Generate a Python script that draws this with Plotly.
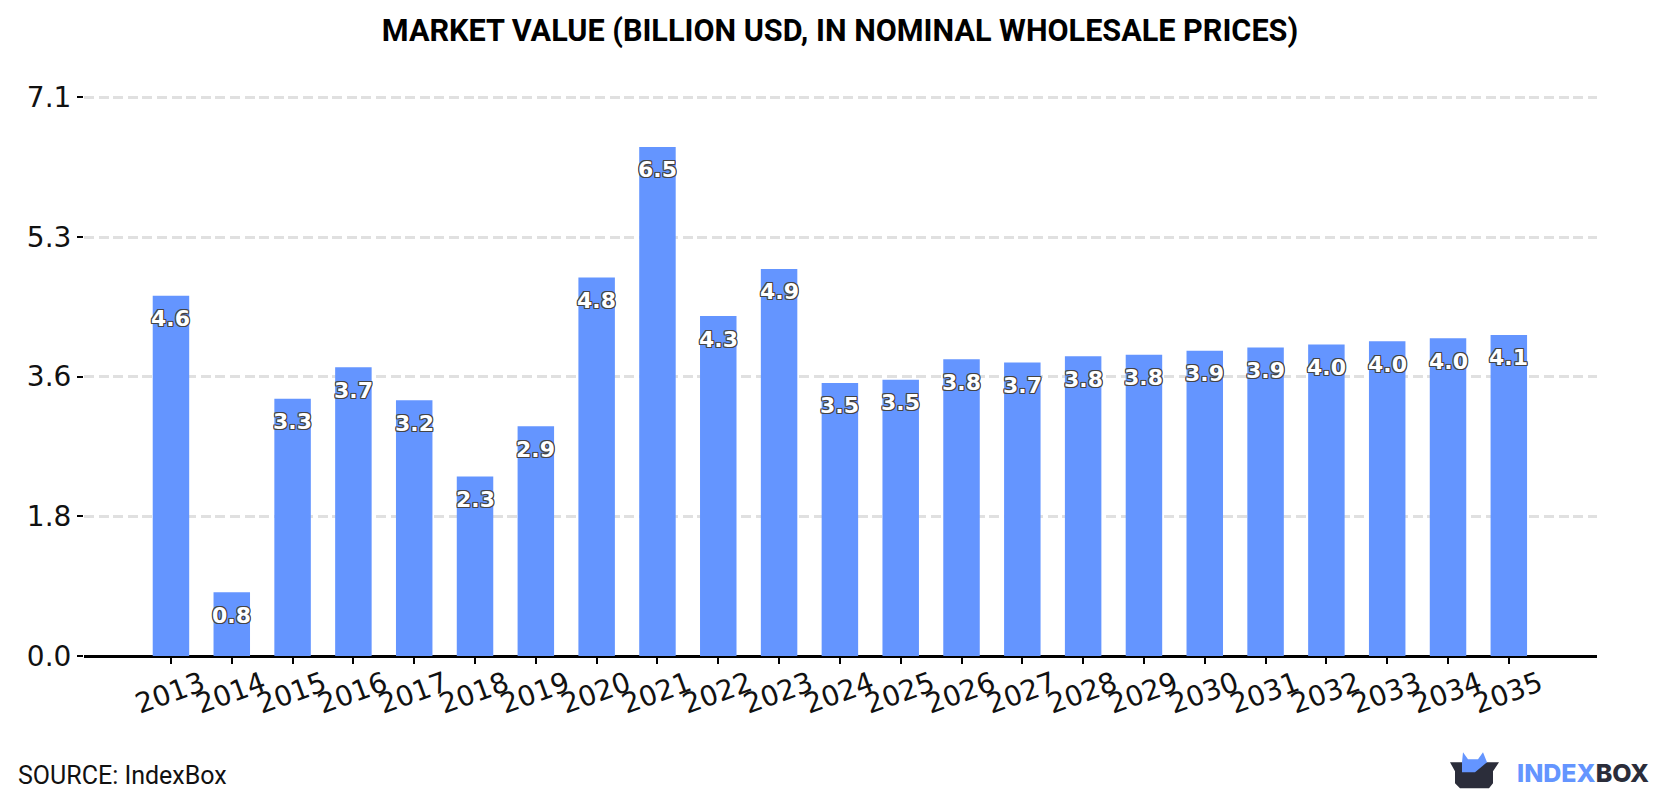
import plotly.graph_objects as go

WIDTH, HEIGHT = 1680, 800
LEFT, RIGHT, TOP, BOTTOM = 84, 1597, 94.6, 656.5

years = [str(y) for y in range(2013, 2036)]
market_value = [4.58, 0.81, 3.27, 3.67, 3.25, 2.28, 2.92, 4.81, 6.47, 4.32, 4.92, 3.47,
                3.51, 3.77, 3.73, 3.81, 3.83, 3.88, 3.92, 3.96, 4.00, 4.04, 4.08]
tick_values = [0, 1.775, 3.55, 5.325, 7.1]
tick_labels = ["0.0", "1.8", "3.6", "5.3", "7.1"]

BLUE = "#6495FF"
DARK = "#2B2D3A"
OUTLINE = ("-1px -1px 0 #444, 1px -1px 0 #444, -1px 1px 0 #444, 1px 1px 0 #444, "
           "0 -1px 0 #444, 0 1px 0 #444, -1px 0 0 #444, 1px 0 0 #444")


def px(x):
    return (x - LEFT) / (RIGHT - LEFT)


def py(y):
    return (BOTTOM - y) / (BOTTOM - TOP)


def logo_path(points):
    return "M " + " L ".join(f"{px(x)} {py(y)}" for x, y in points) + " Z"


fig = go.Figure(
    go.Bar(x=years, y=market_value, width=0.6, marker=dict(color=BLUE, line_width=0),
           hoverinfo="x+y")
)

# Value labels sit just under the top of each bar; category annotations use the serial position
annotations = [
    dict(x=i, y=value, xref="x", yref="y", text=f"{value:.1f}", showarrow=False,
         yshift=-23, yanchor="middle", xanchor="center",
         font=dict(family="DejaVu Sans", size=22, color="white", weight="bold", shadow=OUTLINE))
    for i, value in enumerate(market_value)
]
annotations += [
    dict(x=px(16), y=py(776), xref="paper", yref="paper", text="SOURCE: IndexBox", showarrow=False,
         xanchor="left", yanchor="middle", font=dict(family="Roboto", size=25, color="#111111")),
    dict(x=px(1515), y=py(774), xref="paper", yref="paper", showarrow=False,
         xanchor="left", yanchor="middle",
         text=f"<span style='color:{BLUE}'>INDEX</span><span style='color:{DARK}'>BOX</span>",
         font=dict(family="Inter", size=25, weight=800)),
]

# Brand mark: an open box with a blue crown rising from it
box = [(1450, 763), (1499, 763), (1493, 772), (1493, 784), (1489, 789), (1460, 789),
       (1455, 784), (1455, 772)]
crown = [(1462, 773), (1462, 763), (1463, 753), (1468, 760), (1478, 760), (1483, 753),
         (1487, 763), (1475, 773)]
shapes = [
    dict(type="path", xref="paper", yref="paper", path=logo_path(box),
         fillcolor=DARK, line_width=0, layer="above"),
    dict(type="path", xref="paper", yref="paper", path=logo_path(crown),
         fillcolor=BLUE, line_width=0, layer="above"),
]

fig.update_layout(
    width=WIDTH, height=HEIGHT, autosize=False,
    margin=dict(l=LEFT, r=WIDTH - RIGHT, t=TOP, b=HEIGHT - BOTTOM, pad=0),
    paper_bgcolor="white", plot_bgcolor="white", showlegend=False,
    title=dict(text="<b>MARKET VALUE (BILLION USD, IN NOMINAL WHOLESALE PRICES)</b>",
               x=0.5, xref="container", xanchor="center", y=1 - 30 / HEIGHT, yanchor="middle",
               font=dict(family="Roboto", size=30.6, color="black")),
    annotations=annotations, shapes=shapes,
)

fig.update_xaxes(
    type="category", range=[-1.43, 23.45], showgrid=False, zeroline=False,
    showline=False, ticks="outside", ticklen=7, tickwidth=2, tickcolor="black",
    tickangle=-20, ticklabelshift=31, ticklabelstandoff=-7,
    tickfont=dict(family="DejaVu Sans", size=28, color="#111111"),
)
fig.update_yaxes(
    range=[0, 7.13], tickvals=tick_values, ticktext=tick_labels, zeroline=True,
    zerolinecolor="black", zerolinewidth=2.5, showline=False,
    showgrid=True, gridcolor="#E0E0E0", gridwidth=2.5, griddash="10px,4.6px",
    ticks="outside", ticklen=6, tickwidth=2, tickcolor="black",
    tickfont=dict(family="DejaVu Sans", size=28, color="#111111"),
)

fig.write_html("out.html")
